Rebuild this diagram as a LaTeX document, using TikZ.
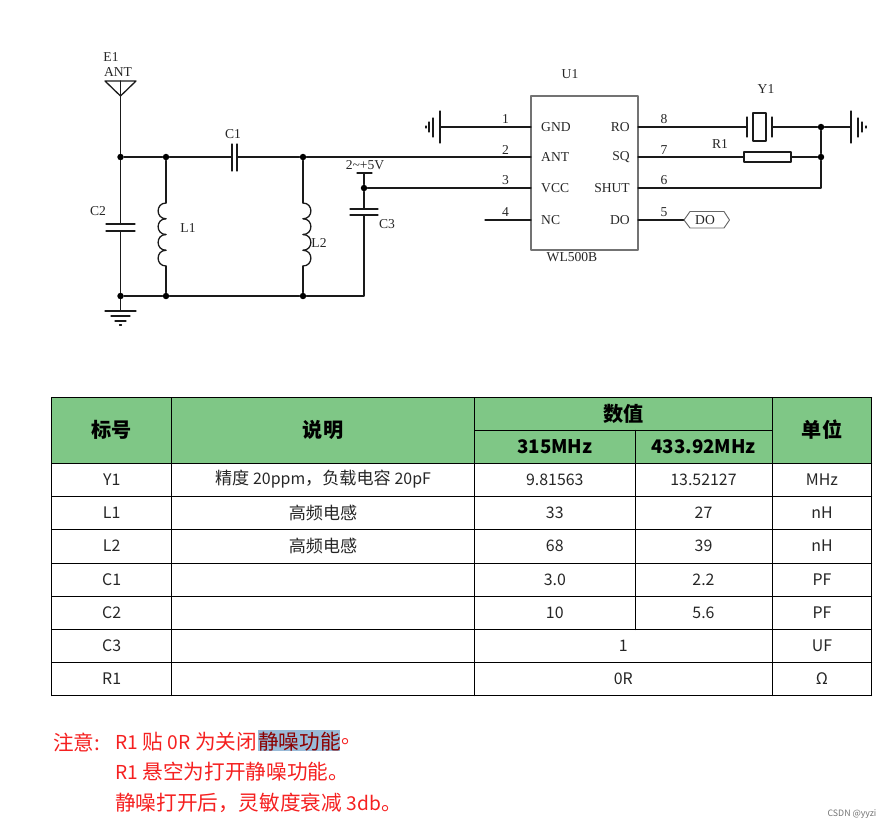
\documentclass[tikz,border=0pt]{standalone}
\usepackage{fontspec}
\setmainfont{Noto Sans CJK SC}
\newfontfamily\schfont{Liberation Serif}
\newfontfamily\latfont[Scale=0.93]{Noto Sans CJK SC}
\newcommand{\lat}[1]{{\latfont #1}}
\newcommand{\fwcomma}{\makebox[1em][l]{\symbol{"FF0C}}}
\usetikzlibrary{calc}
\definecolor{headgreen}{HTML}{7FC786}
\definecolor{marktint}{HTML}{99BBD8}
\definecolor{notered}{HTML}{F52020}
\definecolor{wirecol}{HTML}{1A1A1A}
\tikzset{
  wire/.style={draw=wirecol,line width=1.1pt},
  joint/.style={circle,fill=black,inner sep=0pt,minimum size=5.5pt},
  schlabel/.style={font=\schfont\fontsize{11.6}{12}\selectfont,text=black!85,inner sep=0pt},
  gridline/.style={line width=0.85pt,draw=black},
  cell/.style={font=\fontsize{14.6}{15}\selectfont,text=black!85,inner sep=0pt},
  headcell/.style={font=\bfseries\fontsize{17.2}{18}\selectfont,text=black,inner sep=0pt},
  notetext/.style={font=\fontsize{17.6}{18}\selectfont,text=notered,inner sep=0pt,anchor=west},
  resbox/.style={draw=wirecol,line width=1.1pt,minimum width=40pt,minimum height=8.5pt,inner sep=0pt}
}

\begin{document}
\begin{tikzpicture}[line cap=round,line join=round,x=0.03cm,y=-0.03cm]
\useasboundingbox (0,0) rectangle (892,828);

% circuit points
\coordinate (anttop) at (120.5,81);
\coordinate (anttip) at (120.5,96);
\coordinate (gndtop) at (120.5,311);
\coordinate (l1a) at (166,203);
\coordinate (l1b) at (166,266);
\coordinate (l2a) at (303,203);
\coordinate (l2b) at (303,266);
\coordinate (c1a) at (232,157);
\coordinate (c1b) at (237,157);
\coordinate (c2a) at (120.5,224);
\coordinate (c2b) at (120.5,231);
\coordinate (c3a) at (364,209);
\coordinate (c3b) at (364,215);
\coordinate (vcctop) at (364,173);
\coordinate (corner) at (364,296);
\coordinate (pin1) at (440,127);
\coordinate (pin4) at (485,220);
\coordinate (y1a) at (747,127);
\coordinate (y1b) at (772,127);
\coordinate (gndright) at (851,127);
\coordinate (shutup) at (821,188);

\node[joint] (jtop) at (120.5,157) {};
\node[joint] (jl1) at (166,157) {};
\node[joint] (jl2) at (303,157) {};
\node[joint] (jbot) at (120.5,296) {};
\node[joint] (jl1b) at (166,296) {};
\node[joint] (jl2b) at (303,296) {};
\node[joint] (jvcc) at (364,188) {};
\node[joint] (jxtal) at (821,127) {};
\node[joint] (jres) at (821,157) {};

% module
\draw[draw=black!55,line width=1pt] (531,96) rectangle (638,250);
\coordinate (ugnd) at (531,127);
\coordinate (uant) at (531,157);
\coordinate (uvcc) at (531,188);
\coordinate (unc) at (531,220);
\coordinate (uro) at (638,127);
\coordinate (usq) at (638,157);
\coordinate (ushut) at (638,188);
\coordinate (udo) at (638,220);
\node[schlabel,anchor=west] (ngnd) at (541,127) {GND};
\node[schlabel,anchor=west] (nant) at (541,157) {ANT};
\node[schlabel,anchor=west] (nvcc) at (541,188) {VCC};
\node[schlabel,anchor=west] (nnc) at (541,220) {NC};
\node[schlabel,anchor=east] (nro) at (630,127) {RO};
\node[schlabel,anchor=east] (nsq) at (630,157) {SQ};
\node[schlabel,anchor=east] (nshut) at (630,188) {SHUT};
\node[schlabel,anchor=east] (ndo) at (630,220) {DO};
\foreach \n/\yy in {1/119,2/150,3/180,4/212}
  \node[schlabel] (pl\n) at (505.5,\yy) {\n};
\foreach \n/\yy in {8/119,7/150,6/180,5/212}
  \node[schlabel] (pr\n) at (664,\yy) {\n};
\node[schlabel] (nu1) at (570,74) {U1};
\node[schlabel] (nwl) at (572,257) {WL500B};
\node[schlabel] (ne1) at (111,57) {E1};
\node[schlabel] (nante) at (118,72) {ANT};
\node[schlabel] (nc1) at (233,134) {C1};
\node[schlabel] (nc2) at (98,211) {C2};
\node[schlabel] (nc3) at (387,224) {C3};
\node[schlabel] (nl1) at (188,228) {L1};
\node[schlabel] (nl2) at (319,243) {L2};
\node[schlabel] (nv) at (365,165) {2\textasciitilde+5V};
\node[schlabel] (ny1) at (766,89) {Y1};
\node[schlabel] (nr1) at (720,144) {R1};
\node[resbox] (r1) at (767.5,157) {};

% wires
\draw[wire] (anttop) -- (jtop) -- (c2a);
\draw[wire] (c2b) -- (jbot) -- (gndtop);
\draw[wire] (jtop) -- (jl1) -- (c1a);
\draw[wire] (c1b) -- (jl2) -- (uant);
\draw[wire] (jl1) -- (l1a);
\draw[wire] (l1b) -- (jl1b);
\draw[wire] (jl2) -- (l2a);
\draw[wire] (l2b) -- (jl2b);
\draw[wire] (jbot) -- (jl1b) -- (jl2b) -- (corner) -- (c3b);
\draw[wire] (c3a) -- (jvcc) -- (vcctop);
\draw[wire] (jvcc) -- (uvcc);
\draw[wire] (pin1) -- (ugnd);
\draw[wire] (pin4) -- (unc);
\draw[wire] (uro) -- (y1a);
\draw[wire] (y1b) -- (jxtal) -- (gndright);
\draw[wire] (jxtal) -- (jres) -- (shutup) -- (ushut);
\draw[wire] (usq) -- (r1);
\draw[wire] (r1) -- (jres);

% antenna and grounds
\draw[wire] (105,81) -- (136,81) -- (anttip) -- cycle;
\draw[wire] (105,311) -- (136,311);
\draw[wire] (111,316) -- (130,316);
\draw[wire] (115,321) -- (126,321);
\draw[wire] (119.5,325) -- (121.5,325);
\draw[wire] (440,111) -- (440,143);
\draw[wire] (433,118) -- (433,137);
\draw[wire] (429,122) -- (429,132);
\draw[wire] (426,126) -- (426,128);
\draw[wire] (851,111) -- (851,143);
\draw[wire] (858,118) -- (858,137);
\draw[wire] (862,122) -- (862,132);
\draw[wire] (866,126) -- (866,128);

% capacitors
\draw[wire] (232,144) -- (232,171);
\draw[wire] (237,144) -- (237,171);
\draw[wire] (106,224) -- (135,224);
\draw[wire] (106,231) -- (135,231);
\draw[wire] (350,209) -- (378,209);
\draw[wire] (350,215) -- (378,215);
\draw[wire] (357,173) -- (372,173);

% coils
\foreach \k in {0,1,2,3} {
  \draw[wire] ($(l1a)+(0,\k*15.75)$) .. controls +(-10.5,0) and +(-10.5,0) .. ($(l1a)+(0,\k*15.75+15.75)$);
  \draw[wire] ($(l2a)+(0,\k*15.75)$) .. controls +(10.5,0) and +(10.5,0) .. ($(l2a)+(0,\k*15.75+15.75)$);
}

% crystal, DO port
\draw[wire] (y1a) ++(0,-10) -- ++(0,20);
\draw[wire] (y1b) ++(0,-10) -- ++(0,20);
\draw[wire] (753,113) rectangle (766,141);
\coordinate (doleft) at (684,220);
\draw[wire] (udo) -- (doleft);
\draw[draw=black!60,line width=0.8pt] (doleft) -- (690,211.5) -- (724,211.5) -- (729.5,220) -- (724,228) -- (690,228) -- cycle;
\node[schlabel] (ndoport) at (705,220) {DO};

% table
\fill[headgreen] (51.7,397.7) rectangle (871.7,463.3);
\foreach \yy in {397.7,463.3,496.3,529.3,563.3,596.5,629.5,662.5,695.5}
  \draw[gridline] (51.7,\yy) -- (871.7,\yy);
\draw[gridline] (474.7,430.3) -- (772,430.3);
\foreach \xx in {51.7,171.7,474.7,772,871.7}
  \draw[gridline] (\xx,397.7) -- (\xx,695.5);
\draw[gridline] (635,430.3) -- (635,629.5);

\node[headcell] (htag) at (111.7,430) {标号};
\node[headcell] (hdesc) at (323,430) {说明};
\node[headcell] (hval) at (623.3,414) {数值};
\node[headcell] (hlow) at (554.8,447) {\lat{315MHz}};
\node[headcell] (hhigh) at (703.5,447) {\lat{433.92MHz}};
\node[headcell] (hunit) at (822,430) {单位};

\foreach \i/\yy/\tag/\dsc/\va/\vb/\un in {
  1/479.5/Y1/{精度 \lat{20ppm}\fwcomma 负载电容 \lat{20pF}}/9.81563/13.52127/MHz,
  2/512.5/L1/高频电感/33/27/nH,
  3/545.5/L2/高频电感/68/39/nH,
  4/579.5/C1/{}/3.0/2.2/PF,
  5/612.5/C2/{}/10/5.6/PF} {
  \node[cell] (tag\i) at (111.7,\yy) {\lat{\tag}};
  \node[cell] (dsc\i) at (323,\yy) {\dsc};
  \node[cell] (va\i) at (554.8,\yy) {\lat{\va}};
  \node[cell] (vb\i) at (703.5,\yy) {\lat{\vb}};
  \node[cell] (un\i) at (822,\yy) {\lat{\un}};
}
\node[cell] (tag6) at (111.7,645.5) {\lat{C3}};
\node[cell] (val6) at (623.3,645.5) {\lat{1}};
\node[cell] (un6) at (822,645.5) {\lat{UF}};
\node[cell] (tag7) at (111.7,678.5) {\lat{R1}};
\node[cell] (val7) at (623.3,678.5) {\lat{0R}};
\node[cell] (un7) at (822,678.5) {\lat{Ω}};

% note
\fill[marktint] (258,730) rectangle (340,751);
\node[notetext] (notea) at (53,742) {注意:};
\node[notetext] (noteb) at (115,742) {\lat{R1} 贴 \lat{0R} 为关闭};
\node[notetext,text=red!55!black] (notec) at (258,742) {静噪功能};
\node[notetext] (noted) at (341,742) {。};
\node[notetext] (notee) at (115,772) {\lat{R1} 悬空为打开静噪功能。};
\node[notetext] (notef) at (115,803) {静噪打开后\fwcomma 灵敏度衰减 \lat{3db}。};
\node[font=\fontsize{7.5}{8}\selectfont,text=black!55,inner sep=0pt] (mark) at (852,814) {CSDN @yyzi};
\end{tikzpicture}
\end{document}
